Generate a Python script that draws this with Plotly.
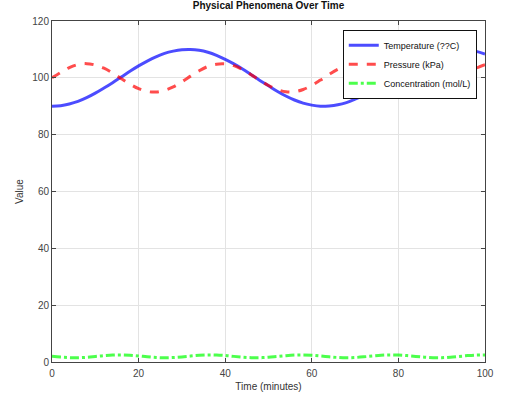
import plotly.graph_objects as go

time_min = list(range(0, 101, 2))
temperature = [90.0, 90.2, 90.8, 91.7, 93.0, 94.6, 96.4, 98.3, 100.3, 102.3, 104.2,
               105.9, 107.4, 108.6, 109.4, 109.9, 110.0, 109.7, 109.0, 107.9, 106.5,
               104.9, 103.1, 101.1, 99.1, 97.2, 95.3, 93.6, 92.2, 91.1, 90.4,
               90.0, 90.1, 90.5, 91.3, 92.5, 93.9, 95.6, 97.5, 99.5, 101.5,
               103.4, 105.2, 106.8, 108.1, 109.1, 109.7, 110.0, 109.8, 109.3, 108.4]
pressure = [100.0, 101.9, 103.6, 104.7, 105.0, 104.5, 103.4, 101.7, 99.7, 97.8, 96.2,
            95.2, 95.0, 95.6, 96.8, 98.6, 100.6, 102.5, 104.0, 104.8, 104.9,
            104.3, 102.9, 101.1, 99.1, 97.3, 95.9, 95.1, 95.1, 95.9, 97.3,
            99.2, 101.2, 103.0, 104.3, 105.0, 104.8, 104.0, 102.4, 100.5, 98.6,
            96.8, 95.6, 95.0, 95.2, 96.2, 97.8, 99.8, 101.7, 103.4, 104.6]
concentration = [2.0, 1.72, 1.53, 1.51, 1.66, 1.93, 2.22, 2.44, 2.50, 2.39, 2.14,
                 1.84, 1.60, 1.50, 1.57, 1.79, 2.09, 2.35, 2.49, 2.46, 2.27,
                 1.98, 1.70, 1.52, 1.52, 1.67, 1.95, 2.23, 2.44, 2.50, 2.38,
                 2.12, 1.83, 1.59, 1.50, 1.58, 1.81, 2.10, 2.36, 2.49, 2.45,
                 2.25, 1.97, 1.69, 1.52, 1.52, 1.69, 1.96, 2.25, 2.45, 2.49]
tick_vals_x = [0, 20, 40, 60, 80, 100]
tick_vals_y = [0, 20, 40, 60, 80, 100, 120]

fig = go.Figure()
fig.add_trace(go.Scatter(x=time_min, y=temperature, mode="lines", name="Temperature (??C)",
                         line=dict(color="rgba(0,0,255,0.7)", width=3, shape="spline")))
fig.add_trace(go.Scatter(x=time_min, y=pressure, mode="lines", name="Pressure (kPa)",
                         line=dict(color="rgba(255,0,0,0.7)", width=3, dash="dash", shape="spline")))
fig.add_trace(go.Scatter(x=time_min, y=concentration, mode="lines", name="Concentration (mol/L)",
                         line=dict(color="rgba(0,255,0,0.7)", width=3, dash="dashdot", shape="spline")))

axis_common = dict(showgrid=True, gridcolor="#e3e3e3", gridwidth=1, showline=True,
                   linecolor="#444444", linewidth=1, mirror="ticks", ticks="inside",
                   ticklen=4, tickcolor="#444444", zeroline=False, automargin=False,
                   tickfont=dict(size=10, color="#444444"))

fig.update_layout(
    width=523, height=395,
    margin=dict(l=52, r=38, t=21, b=33),
    paper_bgcolor="white", plot_bgcolor="white",
    font=dict(family="Liberation Sans, Arial, sans-serif", size=10, color="#333333"),
    title=dict(text="<b>Physical Phenomena Over Time</b>", x=0.5134, xanchor="center",
               y=0.994, yanchor="top", pad=dict(t=0), font=dict(size=10, color="#111111")),
    xaxis=dict(range=[0, 100], tickvals=tick_vals_x, ticklabelstandoff=2,
               title=dict(text="Time (minutes)", font=dict(size=10), standoff=4), **axis_common),
    yaxis=dict(range=[0, 120], tickvals=tick_vals_y,
               title=dict(text="Value", font=dict(size=10), standoff=6), **axis_common),
    legend=dict(x=0.981, xanchor="right", y=0.974, yanchor="top",
                bgcolor="white", bordercolor="#111111", borderwidth=1,
                font=dict(size=9, color="#111111"), itemwidth=30, tracegroupgap=0),
    showlegend=True,
)

fig.write_html("out.html")
